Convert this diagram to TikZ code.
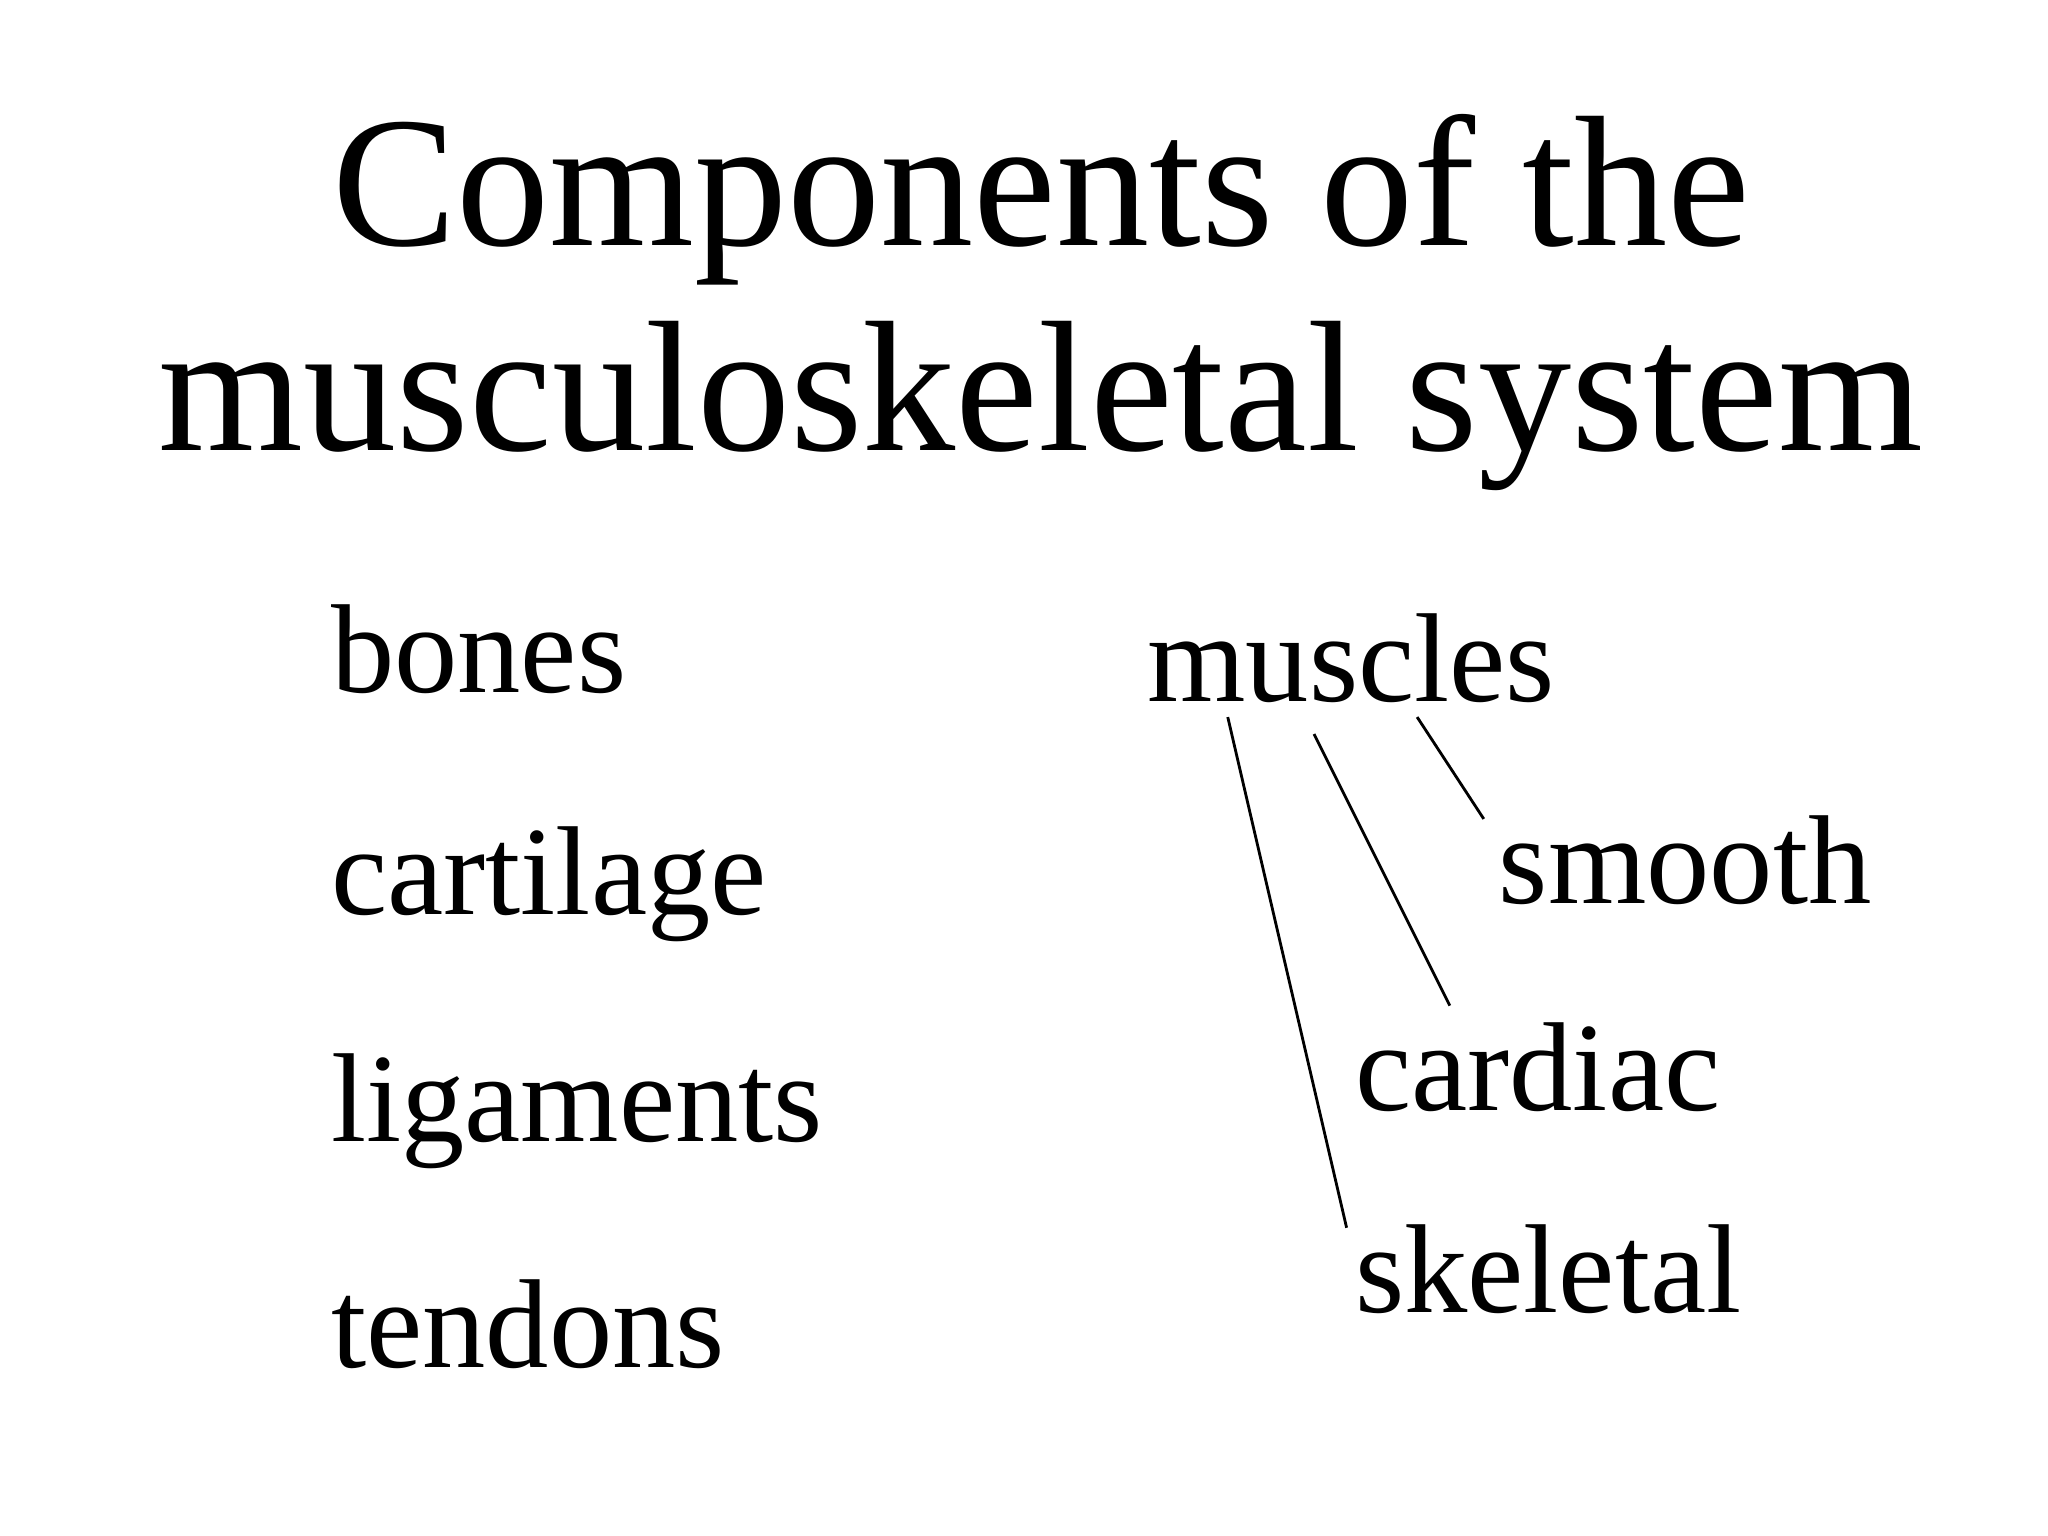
\documentclass[tikz,border=0pt]{standalone}
\usepackage{fontspec}
\setmainfont{Liberation Serif}
\begin{document}
\begin{tikzpicture}[x=0.01306cm,y=-0.01306cm,
  title/.style={anchor=base,font=\fontsize{53}{58}\selectfont,inner sep=0},
  item/.style={anchor=base west,font=\fontsize{36}{40}\selectfont,inner sep=0},
  link/.style={draw=black,line width=0.8pt}]
\useasboundingbox (0,0) rectangle (1568,1176);
\node[title] (t1) at (797,188) {Components of the};
\node[title] (t2) at (797,345) {musculoskeletal system};
\node[item] (bones) at (253,530) {bones};
\node[item] (cart) at (253,700) {cartilage};
\node[item] (lig) at (253,874) {ligaments};
\node[item] (ten) at (253,1047) {tendons};
\node[item] (mus) at (878,537) {muscles};
\node[item] (smooth) at (1147,692) {smooth};
\node[item] (card) at (1037,850) {cardiac};
\node[item] (skel) at (1037,1005) {skeletal};
\coordinate (a1) at (940,549); \coordinate (b1) at (1031,940);
\coordinate (a2) at (1006,562); \coordinate (b2) at (1110,770);
\coordinate (a3) at (1085,549); \coordinate (b3) at (1136,627);
\draw[link] (a1) -- (b1);
\draw[link] (a2) -- (b2);
\draw[link] (a3) -- (b3);
\end{tikzpicture}
\end{document}
